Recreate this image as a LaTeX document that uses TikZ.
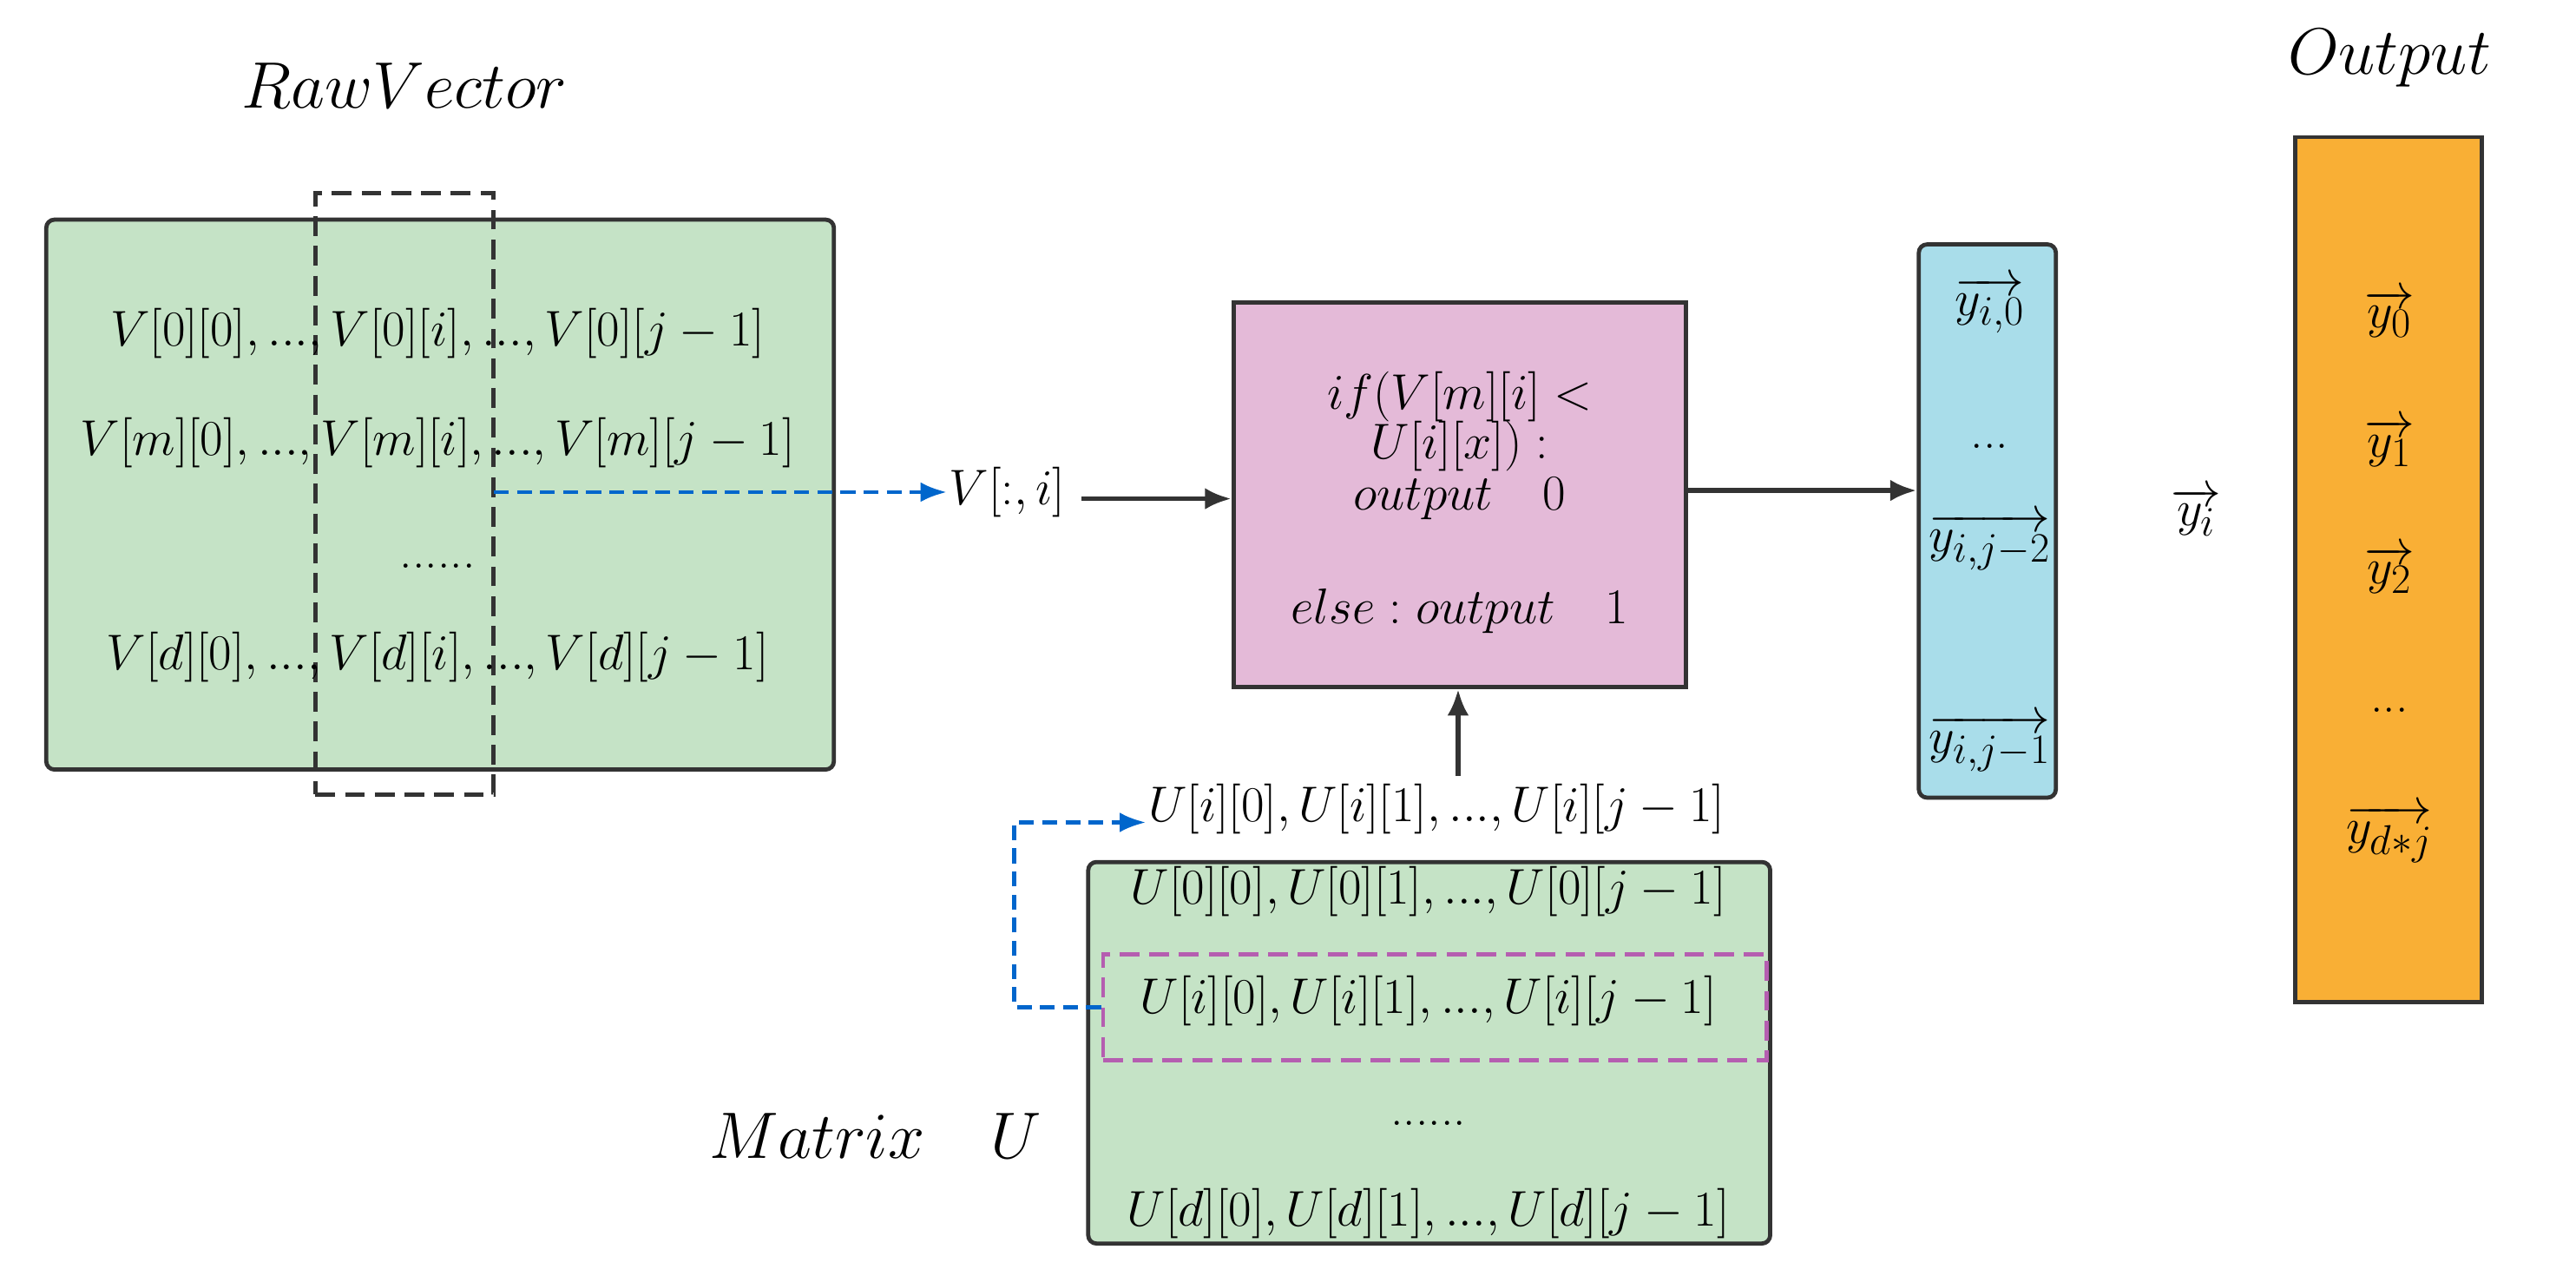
\documentclass[tikz,border=0pt]{standalone}
\usetikzlibrary{arrows.meta}
\begin{document}
\begin{tikzpicture}[x=1pt,y=-1pt,
  box/.style={draw=black!80,line width=2.5pt,rounded corners=5pt,inner sep=0pt},
  txt/.style={font=\fontsize{24.88}{30}\selectfont,inner sep=1pt,scale=1.22},
  ttl/.style={font=\fontsize{24.88}{30}\selectfont,scale=1.6},
  arr/.style={line width=3pt,draw=black!80,-{Latex[length=16pt,width=13pt]}},
  barr/.style={line width=2.5pt,draw=blue!50!cyan!80!black,dash pattern=on 9pt off 5pt,-{Latex[length=16pt,width=12pt]}}]
\useasboundingbox (0,0) rectangle (1560,768);
\definecolor{gr}{HTML}{C5E3C6}\definecolor{pk}{HTML}{E4BAD8}
\definecolor{bl}{HTML}{A9DDEA}\definecolor{og}{HTML}{F9AF35}\definecolor{mg}{HTML}{B55EB0}
\node[ttl] (t1) at (245,52) {$RawVector$};
\node[box,fill=gr,minimum width=477pt,minimum height=333pt] (raw) at (266.5,299.5) {};
\node[draw=black!80,line width=2.5pt,dash pattern=on 12pt off 6pt,minimum width=108pt,minimum height=364pt,inner sep=0pt] (col) at (245,299) {};
\node[txt] (r0) at (265,202) {$V[0][0],...,V[0][i],...,V[0][j-1]$};
\node[txt] (rm) at (265,268) {$V[m][0],...,V[m][i],...,V[m][j-1]$};
\node[txt] (rdots) at (265,343) {......};
\node[txt] (rd) at (265,398) {$V[d][0],...,V[d][i],...,V[d][j-1]$};
\coordinate (cs) at (299,298);
\node[txt] (vi) at (610,298) {$V[:,i]$};
\draw[barr] (cs) -- (vi.west |- cs);
\node[box,rounded corners=0pt,fill=pk,minimum width=274pt,minimum height=233pt] (cmp) at (884,299.5) {};
\node[txt] at (884,240) {$if(V[m][i]<$};
\node[txt] at (884,270) {$U[i][x]):$};
\node[txt] at (884,302) {$output\quad 0$};
\node[txt] at (884,370) {$else:output\quad 1$};
\coordinate (a1) at (655,302);
\draw[arr] (a1) -- (cmp.west |- a1);
\node[box,fill=bl,minimum width=83pt,minimum height=335pt] (yb) at (1203.5,315.5) {};
\node[txt] at (1205,185) {$\overrightarrow{y_{i,0}}$};
\node[txt] at (1205,270) {...};
\node[txt] at (1205,328) {$\overrightarrow{y_{i,j-2}}$};
\node[txt] at (1205,450) {$\overrightarrow{y_{i,j-1}}$};
\coordinate (a2) at (1021,297);
\draw[arr] (a2) -- (yb.west |- a2);
\node[txt] (yi) at (1330,310) {$\overrightarrow{y_i}$};
\node[ttl] (t2) at (1447,35) {$Output$};
\node[draw=black!80,line width=2.5pt,fill=og,minimum width=113pt,minimum height=524pt,inner sep=0pt] (ob) at (1446.5,345) {};
\node[txt] at (1447,190) {$\overrightarrow{y_0}$};
\node[txt] at (1447,268) {$\overrightarrow{y_1}$};
\node[txt] at (1447,345) {$\overrightarrow{y_2}$};
\node[txt] at (1447,430) {...};
\node[txt] at (1447,505) {$\overrightarrow{y_{d*j}}$};
\node[txt] (ui) at (870,490) {$U[i][0],U[i][1],...,U[i][j-1]$};
\coordinate (a3) at (883,470);
\draw[arr] (a3) -- (cmp.south -| a3);
\node[box,fill=gr,minimum width=413pt,minimum height=231pt] (ub) at (865.5,637.5) {};
\node[txt] at (865,540) {$U[0][0],U[0][1],...,U[0][j-1]$};
\node[draw=mg,line width=2.5pt,dash pattern=on 12pt off 6pt,minimum width=402pt,minimum height=64pt,inner sep=0pt] (sel) at (869,610) {};
\node[txt] at (865,606) {$U[i][0],U[i][1],...,U[i][j-1]$};
\node[txt] at (865,680) {......};
\node[txt] at (865,735) {$U[d][0],U[d][1],...,U[d][j-1]$};
\coordinate (b1) at (614,610);
\coordinate (b2) at (614,498);
\draw[barr] (sel.west) -- (b1) -- (b2) -- (ui.west |- b2);
\node[ttl] (t3) at (530,688) {$Matrix\quad U$};
\end{tikzpicture}
\end{document}
